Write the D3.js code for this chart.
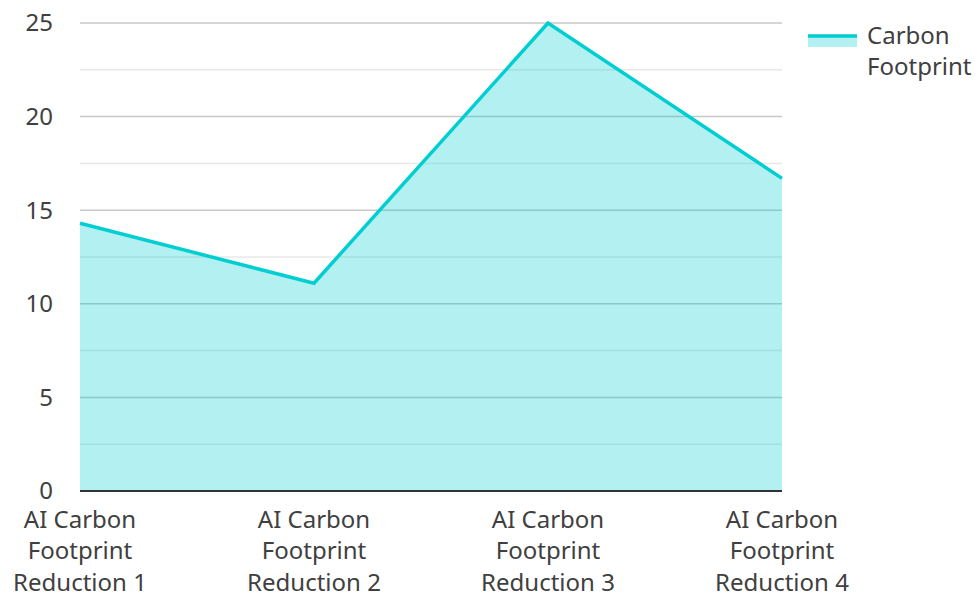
<!DOCTYPE html>
<html lang="en">
<head>
  <meta charset="UTF-8">
  <title>AI Carbon Footprint</title>
  <script src="https://d3js.org/d3.v7.min.js"></script>
  <style>
    body {
      margin: 0;
      background: #fff;
      font-family: "Noto Sans", "Open Sans", sans-serif;
    }
    svg text { fill: #404040; }
  </style>
</head>
<body>
  <svg id="chart" width="979" height="595"></svg>
  <script>
    const categories = [
      ["AI Carbon", "Footprint", "Reduction 1"],
      ["AI Carbon", "Footprint", "Reduction 2"],
      ["AI Carbon", "Footprint", "Reduction 3"],
      ["AI Carbon", "Footprint", "Reduction 4"]
    ];
    const carbonFootprint = [14.3, 11.1, 25, 16.7];
    const yTicks = [0, 5, 10, 15, 20, 25];
    const yMinorTicks = [2.5, 7.5, 12.5, 17.5, 22.5];
    const seriesName = ["Carbon", "Footprint"];

    const color = "#00ced1";
    const margin = { left: 80, right: 197, top: 23, bottom: 104 };
    const width = 979, height = 595;
    const fontSize = "24px";

    const svg = d3.select("#chart");

    const x = d3.scalePoint()
      .domain(d3.range(categories.length))
      .range([margin.left, width - margin.right]);

    const y = d3.scaleLinear()
      .domain([0, 25])
      .range([height - margin.bottom, margin.top]);

    // grid
    svg.append("g")
      .selectAll("line")
      .data(yMinorTicks)
      .join("line")
      .attr("x1", margin.left).attr("x2", width - margin.right)
      .attr("y1", d => y(d)).attr("y2", d => y(d))
      .attr("stroke", "#e8e8e8").attr("stroke-width", 1.5);

    svg.append("g")
      .selectAll("line")
      .data(yTicks.filter(d => d > 0))
      .join("line")
      .attr("x1", margin.left).attr("x2", width - margin.right)
      .attr("y1", d => y(d)).attr("y2", d => y(d))
      .attr("stroke", "#c8c8c8").attr("stroke-width", 1.5);

    // area + line
    const idx = d3.range(carbonFootprint.length);
    const area = d3.area()
      .x(i => x(i))
      .y0(y(0))
      .y1(i => y(carbonFootprint[i]));
    const line = d3.line()
      .x(i => x(i))
      .y(i => y(carbonFootprint[i]));

    svg.append("path")
      .datum(idx)
      .attr("d", area)
      .attr("fill", color)
      .attr("fill-opacity", 0.3);

    svg.append("path")
      .datum(idx)
      .attr("d", line)
      .attr("fill", "none")
      .attr("stroke", color)
      .attr("stroke-width", 3.5)
      .attr("stroke-linejoin", "miter");

    // x axis line
    svg.append("line")
      .attr("x1", margin.left).attr("x2", width - margin.right)
      .attr("y1", y(0)).attr("y2", y(0))
      .attr("stroke", "#333").attr("stroke-width", 2);

    // y tick labels
    svg.append("g")
      .selectAll("text")
      .data(yTicks)
      .join("text")
      .attr("x", 53)
      .attr("y", d => y(d))
      .attr("dy", "0.35em")
      .attr("text-anchor", "end")
      .style("font-size", fontSize)
      .text(d => d);

    // x labels
    const xl = svg.append("g")
      .selectAll("text")
      .data(categories)
      .join("text")
      .attr("text-anchor", "middle")
      .style("font-size", fontSize);
    xl.each(function (lines, i) {
      d3.select(this).selectAll("tspan")
        .data(lines)
        .join("tspan")
        .attr("x", x(i))
        .attr("y", (d, j) => 528 + j * 31.3)
        .text(d => d);
    });

    // legend
    const lg = svg.append("g");
    lg.append("rect")
      .attr("x", 808).attr("y", 36).attr("width", 49).attr("height", 11)
      .attr("fill", color).attr("fill-opacity", 0.3);
    lg.append("line")
      .attr("x1", 808).attr("x2", 857).attr("y1", 36).attr("y2", 36)
      .attr("stroke", color).attr("stroke-width", 3.5);
    lg.append("text")
      .style("font-size", fontSize)
      .selectAll("tspan")
      .data(seriesName)
      .join("tspan")
      .attr("x", 867)
      .attr("y", (d, j) => 44 + j * 31)
      .text(d => d);
  </script>
</body>
</html>
